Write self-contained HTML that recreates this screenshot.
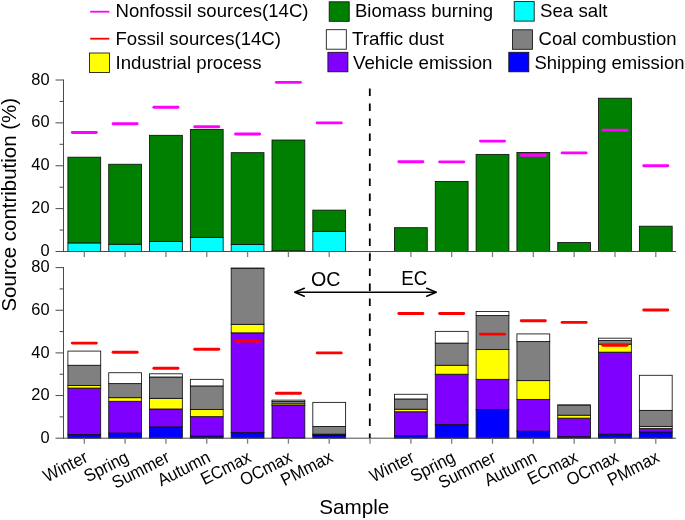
<!DOCTYPE html>
<html lang="en">
<head>
<meta charset="utf-8">
<title>Source contribution chart</title>
<style>
html,body{margin:0;padding:0;background:#fff;}
body{width:685px;height:520px;overflow:hidden;}
svg{display:block;}
text{font-family:"Liberation Sans", Arial, Helvetica, sans-serif;}
</style>
</head>
<body>
<svg width="685" height="520" viewBox="0 0 685 520">
<rect x="0" y="0" width="685" height="520" fill="#ffffff"/>
<g font-family="'Liberation Sans', Arial, Helvetica, sans-serif" fill="#000">
<rect x="67.90" y="242.93" width="32.80" height="8.57" fill="#00FFFF" stroke="#101010" stroke-width="0.85"/>
<rect x="67.90" y="157.18" width="32.80" height="85.75" fill="#008000" stroke="#101010" stroke-width="0.85"/>
<rect x="108.72" y="244.21" width="32.80" height="7.29" fill="#00FFFF" stroke="#101010" stroke-width="0.85"/>
<rect x="108.72" y="164.25" width="32.80" height="79.96" fill="#008000" stroke="#101010" stroke-width="0.85"/>
<rect x="149.54" y="241.42" width="32.80" height="10.08" fill="#00FFFF" stroke="#101010" stroke-width="0.85"/>
<rect x="149.54" y="135.31" width="32.80" height="106.12" fill="#008000" stroke="#101010" stroke-width="0.85"/>
<rect x="190.36" y="237.35" width="32.80" height="14.15" fill="#00FFFF" stroke="#101010" stroke-width="0.85"/>
<rect x="190.36" y="129.52" width="32.80" height="107.83" fill="#008000" stroke="#101010" stroke-width="0.85"/>
<rect x="231.18" y="244.43" width="32.80" height="7.07" fill="#00FFFF" stroke="#101010" stroke-width="0.85"/>
<rect x="231.18" y="152.67" width="32.80" height="91.75" fill="#008000" stroke="#101010" stroke-width="0.85"/>
<rect x="272.00" y="250.86" width="32.80" height="0.64" fill="#00FFFF" stroke="#101010" stroke-width="0.85"/>
<rect x="272.00" y="140.03" width="32.80" height="110.83" fill="#008000" stroke="#101010" stroke-width="0.85"/>
<rect x="312.82" y="231.35" width="32.80" height="20.15" fill="#00FFFF" stroke="#101010" stroke-width="0.85"/>
<rect x="312.82" y="210.13" width="32.80" height="21.22" fill="#008000" stroke="#101010" stroke-width="0.85"/>
<rect x="394.46" y="227.70" width="32.80" height="23.80" fill="#008000" stroke="#101010" stroke-width="0.85"/>
<rect x="435.28" y="181.40" width="32.80" height="70.10" fill="#008000" stroke="#101010" stroke-width="0.85"/>
<rect x="476.10" y="154.39" width="32.80" height="97.11" fill="#008000" stroke="#101010" stroke-width="0.85"/>
<rect x="516.92" y="152.46" width="32.80" height="99.04" fill="#008000" stroke="#101010" stroke-width="0.85"/>
<rect x="557.74" y="242.50" width="32.80" height="9.00" fill="#008000" stroke="#101010" stroke-width="0.85"/>
<rect x="598.56" y="98.22" width="32.80" height="153.28" fill="#008000" stroke="#101010" stroke-width="0.85"/>
<rect x="639.38" y="226.20" width="32.80" height="25.30" fill="#008000" stroke="#101010" stroke-width="0.85"/>
<rect x="67.90" y="434.57" width="32.80" height="3.63" fill="#0000FF" stroke="#101010" stroke-width="0.85"/>
<rect x="67.90" y="388.09" width="32.80" height="46.49" fill="#8000FF" stroke="#101010" stroke-width="0.85"/>
<rect x="67.90" y="385.53" width="32.80" height="2.56" fill="#FFFF00" stroke="#101010" stroke-width="0.85"/>
<rect x="67.90" y="365.27" width="32.80" height="20.26" fill="#808080" stroke="#101010" stroke-width="0.85"/>
<rect x="67.90" y="351.09" width="32.80" height="14.18" fill="#FFFFFF" stroke="#101010" stroke-width="0.85"/>
<rect x="108.72" y="433.08" width="32.80" height="5.12" fill="#0000FF" stroke="#101010" stroke-width="0.85"/>
<rect x="108.72" y="401.31" width="32.80" height="31.77" fill="#8000FF" stroke="#101010" stroke-width="0.85"/>
<rect x="108.72" y="397.68" width="32.80" height="3.63" fill="#FFFF00" stroke="#101010" stroke-width="0.85"/>
<rect x="108.72" y="383.61" width="32.80" height="14.07" fill="#808080" stroke="#101010" stroke-width="0.85"/>
<rect x="108.72" y="372.73" width="32.80" height="10.88" fill="#FFFFFF" stroke="#101010" stroke-width="0.85"/>
<rect x="149.54" y="426.90" width="32.80" height="11.30" fill="#0000FF" stroke="#101010" stroke-width="0.85"/>
<rect x="149.54" y="408.98" width="32.80" height="17.91" fill="#8000FF" stroke="#101010" stroke-width="0.85"/>
<rect x="149.54" y="398.32" width="32.80" height="10.66" fill="#FFFF00" stroke="#101010" stroke-width="0.85"/>
<rect x="149.54" y="377.00" width="32.80" height="21.32" fill="#808080" stroke="#101010" stroke-width="0.85"/>
<rect x="149.54" y="373.80" width="32.80" height="3.20" fill="#FFFFFF" stroke="#101010" stroke-width="0.85"/>
<rect x="190.36" y="436.07" width="32.80" height="2.13" fill="#0000FF" stroke="#101010" stroke-width="0.85"/>
<rect x="190.36" y="416.66" width="32.80" height="19.41" fill="#8000FF" stroke="#101010" stroke-width="0.85"/>
<rect x="190.36" y="409.41" width="32.80" height="7.25" fill="#FFFF00" stroke="#101010" stroke-width="0.85"/>
<rect x="190.36" y="385.95" width="32.80" height="23.46" fill="#808080" stroke="#101010" stroke-width="0.85"/>
<rect x="190.36" y="379.34" width="32.80" height="6.61" fill="#FFFFFF" stroke="#101010" stroke-width="0.85"/>
<rect x="231.18" y="432.66" width="32.80" height="5.54" fill="#0000FF" stroke="#101010" stroke-width="0.85"/>
<rect x="231.18" y="332.85" width="32.80" height="99.80" fill="#8000FF" stroke="#101010" stroke-width="0.85"/>
<rect x="231.18" y="324.32" width="32.80" height="8.53" fill="#FFFF00" stroke="#101010" stroke-width="0.85"/>
<rect x="231.18" y="268.45" width="32.80" height="55.87" fill="#808080" stroke="#101010" stroke-width="0.85"/>
<rect x="231.18" y="268.03" width="32.80" height="0.43" fill="#FFFFFF" stroke="#101010" stroke-width="0.85"/>
<rect x="272.00" y="437.56" width="32.80" height="0.64" fill="#0000FF" stroke="#101010" stroke-width="0.85"/>
<rect x="272.00" y="405.57" width="32.80" height="31.99" fill="#8000FF" stroke="#101010" stroke-width="0.85"/>
<rect x="272.00" y="403.87" width="32.80" height="1.71" fill="#FFFF00" stroke="#101010" stroke-width="0.85"/>
<rect x="272.00" y="401.52" width="32.80" height="2.35" fill="#808080" stroke="#101010" stroke-width="0.85"/>
<rect x="272.00" y="400.13" width="32.80" height="1.39" fill="#FFFFFF" stroke="#101010" stroke-width="0.85"/>
<rect x="312.82" y="435.64" width="32.80" height="2.56" fill="#0000FF" stroke="#101010" stroke-width="0.85"/>
<rect x="312.82" y="434.79" width="32.80" height="0.85" fill="#8000FF" stroke="#101010" stroke-width="0.85"/>
<rect x="312.82" y="434.15" width="32.80" height="0.64" fill="#FFFF00" stroke="#101010" stroke-width="0.85"/>
<rect x="312.82" y="426.47" width="32.80" height="7.68" fill="#808080" stroke="#101010" stroke-width="0.85"/>
<rect x="312.82" y="402.37" width="32.80" height="24.10" fill="#FFFFFF" stroke="#101010" stroke-width="0.85"/>
<rect x="394.46" y="435.64" width="32.80" height="2.56" fill="#0000FF" stroke="#101010" stroke-width="0.85"/>
<rect x="394.46" y="411.76" width="32.80" height="23.88" fill="#8000FF" stroke="#101010" stroke-width="0.85"/>
<rect x="394.46" y="409.20" width="32.80" height="2.56" fill="#FFFF00" stroke="#101010" stroke-width="0.85"/>
<rect x="394.46" y="398.96" width="32.80" height="10.24" fill="#808080" stroke="#101010" stroke-width="0.85"/>
<rect x="394.46" y="394.27" width="32.80" height="4.69" fill="#FFFFFF" stroke="#101010" stroke-width="0.85"/>
<rect x="435.28" y="424.66" width="32.80" height="13.54" fill="#0000FF" stroke="#101010" stroke-width="0.85"/>
<rect x="435.28" y="374.23" width="32.80" height="50.43" fill="#8000FF" stroke="#101010" stroke-width="0.85"/>
<rect x="435.28" y="365.27" width="32.80" height="8.96" fill="#FFFF00" stroke="#101010" stroke-width="0.85"/>
<rect x="435.28" y="343.09" width="32.80" height="22.18" fill="#808080" stroke="#101010" stroke-width="0.85"/>
<rect x="435.28" y="331.36" width="32.80" height="11.73" fill="#FFFFFF" stroke="#101010" stroke-width="0.85"/>
<rect x="476.10" y="409.62" width="32.80" height="28.58" fill="#0000FF" stroke="#101010" stroke-width="0.85"/>
<rect x="476.10" y="379.34" width="32.80" height="30.28" fill="#8000FF" stroke="#101010" stroke-width="0.85"/>
<rect x="476.10" y="349.59" width="32.80" height="29.75" fill="#FFFF00" stroke="#101010" stroke-width="0.85"/>
<rect x="476.10" y="315.58" width="32.80" height="34.01" fill="#808080" stroke="#101010" stroke-width="0.85"/>
<rect x="476.10" y="311.53" width="32.80" height="4.05" fill="#FFFFFF" stroke="#101010" stroke-width="0.85"/>
<rect x="516.92" y="431.16" width="32.80" height="7.04" fill="#0000FF" stroke="#101010" stroke-width="0.85"/>
<rect x="516.92" y="399.39" width="32.80" height="31.77" fill="#8000FF" stroke="#101010" stroke-width="0.85"/>
<rect x="516.92" y="380.62" width="32.80" height="18.77" fill="#FFFF00" stroke="#101010" stroke-width="0.85"/>
<rect x="516.92" y="341.60" width="32.80" height="39.02" fill="#808080" stroke="#101010" stroke-width="0.85"/>
<rect x="516.92" y="333.92" width="32.80" height="7.68" fill="#FFFFFF" stroke="#101010" stroke-width="0.85"/>
<rect x="557.74" y="436.71" width="32.80" height="1.49" fill="#0000FF" stroke="#101010" stroke-width="0.85"/>
<rect x="557.74" y="418.15" width="32.80" height="18.55" fill="#8000FF" stroke="#101010" stroke-width="0.85"/>
<rect x="557.74" y="415.17" width="32.80" height="2.99" fill="#FFFF00" stroke="#101010" stroke-width="0.85"/>
<rect x="557.74" y="405.15" width="32.80" height="10.02" fill="#808080" stroke="#101010" stroke-width="0.85"/>
<rect x="557.74" y="404.93" width="32.80" height="0.21" fill="#FFFFFF" stroke="#101010" stroke-width="0.85"/>
<rect x="598.56" y="434.15" width="32.80" height="4.05" fill="#0000FF" stroke="#101010" stroke-width="0.85"/>
<rect x="598.56" y="352.15" width="32.80" height="81.99" fill="#8000FF" stroke="#101010" stroke-width="0.85"/>
<rect x="598.56" y="344.16" width="32.80" height="8.00" fill="#FFFF00" stroke="#101010" stroke-width="0.85"/>
<rect x="598.56" y="340.53" width="32.80" height="3.63" fill="#808080" stroke="#101010" stroke-width="0.85"/>
<rect x="598.56" y="338.19" width="32.80" height="2.35" fill="#FFFFFF" stroke="#101010" stroke-width="0.85"/>
<rect x="639.38" y="432.02" width="32.80" height="6.18" fill="#0000FF" stroke="#101010" stroke-width="0.85"/>
<rect x="639.38" y="428.60" width="32.80" height="3.41" fill="#8000FF" stroke="#101010" stroke-width="0.85"/>
<rect x="639.38" y="426.47" width="32.80" height="2.13" fill="#FFFF00" stroke="#101010" stroke-width="0.85"/>
<rect x="639.38" y="410.37" width="32.80" height="16.10" fill="#808080" stroke="#101010" stroke-width="0.85"/>
<rect x="639.38" y="375.29" width="32.80" height="35.08" fill="#FFFFFF" stroke="#101010" stroke-width="0.85"/>
<line x1="63.5" y1="79.50" x2="63.5" y2="252.00" stroke="#4a4a4a" stroke-width="1"/>
<line x1="63" y1="251.50" x2="676" y2="251.50" stroke="#4a4a4a" stroke-width="1"/>
<line x1="55.50" y1="251.50" x2="63.5" y2="251.50" stroke="#4a4a4a" stroke-width="1"/>
<text x="49.6" y="256.10" font-size="16.4" text-anchor="end">0</text>
<line x1="59.50" y1="230.06" x2="63.5" y2="230.06" stroke="#4a4a4a" stroke-width="1"/>
<line x1="55.50" y1="208.62" x2="63.5" y2="208.62" stroke="#4a4a4a" stroke-width="1"/>
<text x="49.6" y="213.22" font-size="16.4" text-anchor="end">20</text>
<line x1="59.50" y1="187.19" x2="63.5" y2="187.19" stroke="#4a4a4a" stroke-width="1"/>
<line x1="55.50" y1="165.75" x2="63.5" y2="165.75" stroke="#4a4a4a" stroke-width="1"/>
<text x="49.6" y="170.35" font-size="16.4" text-anchor="end">40</text>
<line x1="59.50" y1="144.31" x2="63.5" y2="144.31" stroke="#4a4a4a" stroke-width="1"/>
<line x1="55.50" y1="122.88" x2="63.5" y2="122.88" stroke="#4a4a4a" stroke-width="1"/>
<text x="49.6" y="127.47" font-size="16.4" text-anchor="end">60</text>
<line x1="59.50" y1="101.44" x2="63.5" y2="101.44" stroke="#4a4a4a" stroke-width="1"/>
<line x1="55.50" y1="80.00" x2="63.5" y2="80.00" stroke="#4a4a4a" stroke-width="1"/>
<text x="49.6" y="84.60" font-size="16.4" text-anchor="end">80</text>
<line x1="84.30" y1="251.50" x2="84.30" y2="257.00" stroke="#7c7c84" stroke-width="1.3"/>
<line x1="125.12" y1="251.50" x2="125.12" y2="257.00" stroke="#7c7c84" stroke-width="1.3"/>
<line x1="165.94" y1="251.50" x2="165.94" y2="257.00" stroke="#7c7c84" stroke-width="1.3"/>
<line x1="206.76" y1="251.50" x2="206.76" y2="257.00" stroke="#7c7c84" stroke-width="1.3"/>
<line x1="247.58" y1="251.50" x2="247.58" y2="257.00" stroke="#7c7c84" stroke-width="1.3"/>
<line x1="288.40" y1="251.50" x2="288.40" y2="257.00" stroke="#7c7c84" stroke-width="1.3"/>
<line x1="329.22" y1="251.50" x2="329.22" y2="257.00" stroke="#7c7c84" stroke-width="1.3"/>
<line x1="370.04" y1="251.50" x2="370.04" y2="257.00" stroke="#7c7c84" stroke-width="1.3"/>
<line x1="410.86" y1="251.50" x2="410.86" y2="257.00" stroke="#7c7c84" stroke-width="1.3"/>
<line x1="451.68" y1="251.50" x2="451.68" y2="257.00" stroke="#7c7c84" stroke-width="1.3"/>
<line x1="492.50" y1="251.50" x2="492.50" y2="257.00" stroke="#7c7c84" stroke-width="1.3"/>
<line x1="533.32" y1="251.50" x2="533.32" y2="257.00" stroke="#7c7c84" stroke-width="1.3"/>
<line x1="574.14" y1="251.50" x2="574.14" y2="257.00" stroke="#7c7c84" stroke-width="1.3"/>
<line x1="614.96" y1="251.50" x2="614.96" y2="257.00" stroke="#7c7c84" stroke-width="1.3"/>
<line x1="655.78" y1="251.50" x2="655.78" y2="257.00" stroke="#7c7c84" stroke-width="1.3"/>
<line x1="63.5" y1="267.00" x2="63.5" y2="438.70" stroke="#4a4a4a" stroke-width="1"/>
<line x1="63" y1="438.20" x2="676" y2="438.20" stroke="#4a4a4a" stroke-width="1"/>
<line x1="55.50" y1="438.20" x2="63.5" y2="438.20" stroke="#4a4a4a" stroke-width="1"/>
<text x="49.6" y="442.80" font-size="16.4" text-anchor="end">0</text>
<line x1="59.50" y1="416.88" x2="63.5" y2="416.88" stroke="#4a4a4a" stroke-width="1"/>
<line x1="55.50" y1="395.55" x2="63.5" y2="395.55" stroke="#4a4a4a" stroke-width="1"/>
<text x="49.6" y="400.15" font-size="16.4" text-anchor="end">20</text>
<line x1="59.50" y1="374.23" x2="63.5" y2="374.23" stroke="#4a4a4a" stroke-width="1"/>
<line x1="55.50" y1="352.90" x2="63.5" y2="352.90" stroke="#4a4a4a" stroke-width="1"/>
<text x="49.6" y="357.50" font-size="16.4" text-anchor="end">40</text>
<line x1="59.50" y1="331.57" x2="63.5" y2="331.57" stroke="#4a4a4a" stroke-width="1"/>
<line x1="55.50" y1="310.25" x2="63.5" y2="310.25" stroke="#4a4a4a" stroke-width="1"/>
<text x="49.6" y="314.85" font-size="16.4" text-anchor="end">60</text>
<line x1="59.50" y1="288.93" x2="63.5" y2="288.93" stroke="#4a4a4a" stroke-width="1"/>
<line x1="55.50" y1="267.60" x2="63.5" y2="267.60" stroke="#4a4a4a" stroke-width="1"/>
<text x="49.6" y="272.20" font-size="16.4" text-anchor="end">80</text>
<line x1="84.30" y1="438.20" x2="84.30" y2="443.70" stroke="#7c7c84" stroke-width="1.3"/>
<line x1="125.12" y1="438.20" x2="125.12" y2="443.70" stroke="#7c7c84" stroke-width="1.3"/>
<line x1="165.94" y1="438.20" x2="165.94" y2="443.70" stroke="#7c7c84" stroke-width="1.3"/>
<line x1="206.76" y1="438.20" x2="206.76" y2="443.70" stroke="#7c7c84" stroke-width="1.3"/>
<line x1="247.58" y1="438.20" x2="247.58" y2="443.70" stroke="#7c7c84" stroke-width="1.3"/>
<line x1="288.40" y1="438.20" x2="288.40" y2="443.70" stroke="#7c7c84" stroke-width="1.3"/>
<line x1="329.22" y1="438.20" x2="329.22" y2="443.70" stroke="#7c7c84" stroke-width="1.3"/>
<line x1="370.04" y1="438.20" x2="370.04" y2="443.70" stroke="#7c7c84" stroke-width="1.3"/>
<line x1="410.86" y1="438.20" x2="410.86" y2="443.70" stroke="#7c7c84" stroke-width="1.3"/>
<line x1="451.68" y1="438.20" x2="451.68" y2="443.70" stroke="#7c7c84" stroke-width="1.3"/>
<line x1="492.50" y1="438.20" x2="492.50" y2="443.70" stroke="#7c7c84" stroke-width="1.3"/>
<line x1="533.32" y1="438.20" x2="533.32" y2="443.70" stroke="#7c7c84" stroke-width="1.3"/>
<line x1="574.14" y1="438.20" x2="574.14" y2="443.70" stroke="#7c7c84" stroke-width="1.3"/>
<line x1="614.96" y1="438.20" x2="614.96" y2="443.70" stroke="#7c7c84" stroke-width="1.3"/>
<line x1="655.78" y1="438.20" x2="655.78" y2="443.70" stroke="#7c7c84" stroke-width="1.3"/>
<line x1="72.25" y1="132.52" x2="96.35" y2="132.52" stroke="#FF00FF" stroke-width="2.9" stroke-linecap="round"/>
<line x1="113.07" y1="123.73" x2="137.17" y2="123.73" stroke="#FF00FF" stroke-width="2.9" stroke-linecap="round"/>
<line x1="153.89" y1="107.23" x2="177.99" y2="107.23" stroke="#FF00FF" stroke-width="2.9" stroke-linecap="round"/>
<line x1="194.71" y1="126.73" x2="218.81" y2="126.73" stroke="#FF00FF" stroke-width="2.9" stroke-linecap="round"/>
<line x1="235.53" y1="134.02" x2="259.63" y2="134.02" stroke="#FF00FF" stroke-width="2.9" stroke-linecap="round"/>
<line x1="276.35" y1="82.36" x2="300.45" y2="82.36" stroke="#FF00FF" stroke-width="2.9" stroke-linecap="round"/>
<line x1="317.17" y1="122.88" x2="341.27" y2="122.88" stroke="#FF00FF" stroke-width="2.9" stroke-linecap="round"/>
<line x1="398.81" y1="161.68" x2="422.91" y2="161.68" stroke="#FF00FF" stroke-width="2.9" stroke-linecap="round"/>
<line x1="439.63" y1="161.89" x2="463.73" y2="161.89" stroke="#FF00FF" stroke-width="2.9" stroke-linecap="round"/>
<line x1="480.45" y1="141.10" x2="504.55" y2="141.10" stroke="#FF00FF" stroke-width="2.9" stroke-linecap="round"/>
<line x1="521.27" y1="155.25" x2="545.37" y2="155.25" stroke="#FF00FF" stroke-width="2.9" stroke-linecap="round"/>
<line x1="562.09" y1="152.89" x2="586.19" y2="152.89" stroke="#FF00FF" stroke-width="2.9" stroke-linecap="round"/>
<line x1="602.91" y1="130.16" x2="627.01" y2="130.16" stroke="#FF00FF" stroke-width="2.9" stroke-linecap="round"/>
<line x1="643.73" y1="165.75" x2="667.83" y2="165.75" stroke="#FF00FF" stroke-width="2.9" stroke-linecap="round"/>
<line x1="72.25" y1="343.09" x2="96.35" y2="343.09" stroke="#FF0000" stroke-width="2.9" stroke-linecap="round"/>
<line x1="113.07" y1="352.26" x2="137.17" y2="352.26" stroke="#FF0000" stroke-width="2.9" stroke-linecap="round"/>
<line x1="153.89" y1="368.25" x2="177.99" y2="368.25" stroke="#FF0000" stroke-width="2.9" stroke-linecap="round"/>
<line x1="194.71" y1="349.27" x2="218.81" y2="349.27" stroke="#FF0000" stroke-width="2.9" stroke-linecap="round"/>
<line x1="235.53" y1="341.17" x2="259.63" y2="341.17" stroke="#FF0000" stroke-width="2.9" stroke-linecap="round"/>
<line x1="276.35" y1="393.20" x2="300.45" y2="393.20" stroke="#FF0000" stroke-width="2.9" stroke-linecap="round"/>
<line x1="317.17" y1="352.90" x2="341.27" y2="352.90" stroke="#FF0000" stroke-width="2.9" stroke-linecap="round"/>
<line x1="398.81" y1="313.45" x2="422.91" y2="313.45" stroke="#FF0000" stroke-width="2.9" stroke-linecap="round"/>
<line x1="439.63" y1="313.45" x2="463.73" y2="313.45" stroke="#FF0000" stroke-width="2.9" stroke-linecap="round"/>
<line x1="480.45" y1="334.13" x2="504.55" y2="334.13" stroke="#FF0000" stroke-width="2.9" stroke-linecap="round"/>
<line x1="521.27" y1="320.70" x2="545.37" y2="320.70" stroke="#FF0000" stroke-width="2.9" stroke-linecap="round"/>
<line x1="562.09" y1="322.41" x2="586.19" y2="322.41" stroke="#FF0000" stroke-width="2.9" stroke-linecap="round"/>
<line x1="602.91" y1="345.22" x2="627.01" y2="345.22" stroke="#FF0000" stroke-width="2.9" stroke-linecap="round"/>
<line x1="643.73" y1="310.04" x2="667.83" y2="310.04" stroke="#FF0000" stroke-width="2.9" stroke-linecap="round"/>
<line x1="369.8" y1="88.5" x2="369.8" y2="438" stroke="#000" stroke-width="1.8" stroke-dasharray="7.5 7.5"/>
<g stroke="#000" stroke-width="1.5" fill="none" stroke-linecap="round" stroke-linejoin="round"><line x1="295" y1="292.3" x2="436" y2="292.3"/><polyline points="304.3,288.3 294.8,292.3 304.3,296.3"/><polyline points="426.7,288.3 436.2,292.3 426.7,296.3"/></g>
<text x="311" y="285.6" font-size="20" textLength="29.4" lengthAdjust="spacingAndGlyphs">OC</text>
<text x="401.2" y="284.6" font-size="20" textLength="26" lengthAdjust="spacingAndGlyphs">EC</text>
<line x1="90.2" y1="11.7" x2="109.3" y2="11.7" stroke="#FF00FF" stroke-width="1.8"/>
<line x1="90.2" y1="38.7" x2="109.3" y2="38.7" stroke="#FF0000" stroke-width="1.8"/>
<text x="115.5" y="17.4" font-size="19.0" textLength="193" lengthAdjust="spacingAndGlyphs">Nonfossil sources(14C)</text>
<text x="115.5" y="45.4" font-size="19.0" textLength="165.5" lengthAdjust="spacingAndGlyphs">Fossil sources(14C)</text>
<rect x="89.50" y="53.00" width="20.00" height="19.50" fill="#FFFF00" stroke="#101010" stroke-width="0.85"/>
<text x="115.5" y="68.8" font-size="19.0" textLength="146" lengthAdjust="spacingAndGlyphs">Industrial process</text>
<rect x="329.20" y="1.80" width="20.00" height="19.50" fill="#008000" stroke="#101010" stroke-width="0.85"/>
<text x="355" y="17.4" font-size="19.0" textLength="138" lengthAdjust="spacingAndGlyphs">Biomass burning</text>
<rect x="326.30" y="29.70" width="20.00" height="19.50" fill="#FFFFFF" stroke="#101010" stroke-width="0.85"/>
<text x="352.0" y="45.4" font-size="19.0" textLength="92" lengthAdjust="spacingAndGlyphs">Traffic dust</text>
<rect x="327.90" y="52.30" width="20.00" height="19.50" fill="#8000FF" stroke="#101010" stroke-width="0.85"/>
<text x="353.0" y="68.8" font-size="19.0" textLength="139.5" lengthAdjust="spacingAndGlyphs">Vehicle emission</text>
<rect x="514.20" y="1.60" width="20.00" height="19.50" fill="#00FFFF" stroke="#101010" stroke-width="0.85"/>
<text x="540" y="17.4" font-size="19.0" textLength="67.5" lengthAdjust="spacingAndGlyphs">Sea salt</text>
<rect x="512.50" y="29.80" width="20.00" height="19.50" fill="#808080" stroke="#101010" stroke-width="0.85"/>
<text x="538.5" y="45.4" font-size="19.0" textLength="138" lengthAdjust="spacingAndGlyphs">Coal combustion</text>
<rect x="508.80" y="52.30" width="20.00" height="19.50" fill="#0000FF" stroke="#101010" stroke-width="0.85"/>
<text x="534.5" y="68.8" font-size="19.0" textLength="150" lengthAdjust="spacingAndGlyphs">Shipping emission</text>
<text transform="translate(15.8,204.8) rotate(-90)" font-size="20.7" text-anchor="middle" textLength="213.5" lengthAdjust="spacingAndGlyphs">Source contribution (%)</text>
<text x="354.3" y="514.1" font-size="20.7" text-anchor="middle">Sample</text>
<text transform="translate(89.10,461.00) rotate(-27) scale(0.925,1)" font-size="17.7" text-anchor="end">Winter</text>
<text transform="translate(129.92,461.00) rotate(-27) scale(0.925,1)" font-size="17.7" text-anchor="end">Spring</text>
<text transform="translate(170.74,461.00) rotate(-27) scale(0.925,1)" font-size="17.7" text-anchor="end">Summer</text>
<text transform="translate(211.56,461.00) rotate(-27) scale(0.925,1)" font-size="17.7" text-anchor="end">Autumn</text>
<text transform="translate(252.38,461.00) rotate(-27) scale(0.925,1)" font-size="17.7" text-anchor="end">ECmax</text>
<text transform="translate(293.20,461.00) rotate(-27) scale(0.925,1)" font-size="17.7" text-anchor="end">OCmax</text>
<text transform="translate(334.02,461.00) rotate(-27) scale(0.925,1)" font-size="17.7" text-anchor="end">PMmax</text>
<text transform="translate(415.66,461.00) rotate(-27) scale(0.925,1)" font-size="17.7" text-anchor="end">Winter</text>
<text transform="translate(456.48,461.00) rotate(-27) scale(0.925,1)" font-size="17.7" text-anchor="end">Spring</text>
<text transform="translate(497.30,461.00) rotate(-27) scale(0.925,1)" font-size="17.7" text-anchor="end">Summer</text>
<text transform="translate(538.12,461.00) rotate(-27) scale(0.925,1)" font-size="17.7" text-anchor="end">Autumn</text>
<text transform="translate(578.94,461.00) rotate(-27) scale(0.925,1)" font-size="17.7" text-anchor="end">ECmax</text>
<text transform="translate(619.76,461.00) rotate(-27) scale(0.925,1)" font-size="17.7" text-anchor="end">OCmax</text>
<text transform="translate(660.58,461.00) rotate(-27) scale(0.925,1)" font-size="17.7" text-anchor="end">PMmax</text>
</g>
</svg>
</body>
</html>
